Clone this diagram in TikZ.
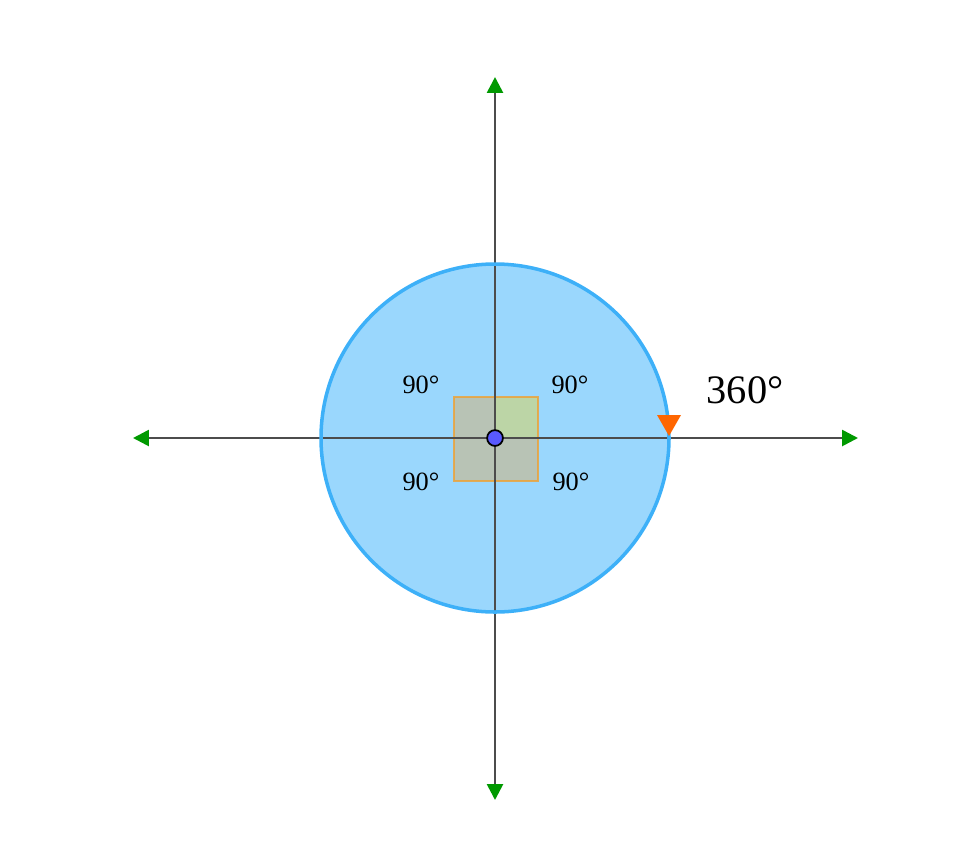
\documentclass[tikz,border=0pt]{standalone}
\usepackage{fontspec}
\setmainfont{Liberation Serif}
\usetikzlibrary{arrows.meta}
\definecolor{disc}{HTML}{9AD7FD}
\definecolor{discline}{HTML}{3DB0F8}
\definecolor{axisgreen}{HTML}{009900}
\definecolor{marker}{HTML}{FF6600}
\definecolor{sq}{HTML}{F0A030}
\tikzset{
  axis/.style={draw=black!70, line width=1.5pt, -{Triangle[length=9pt,width=9pt,color=axisgreen]}},
  quad/.style={draw=sq, line width=1.5pt, draw opacity=0.8, fill=sq, fill opacity=0.35},
  deg/.style={font=\fontsize{15}{15}\selectfont},
}
\begin{document}
\begin{tikzpicture}[x=0.02cm,y=-0.02cm]
\useasboundingbox (0,0) rectangle (976,866);

% disc
\fill[disc] (495,438) circle (174);

% quadrant squares
\path[quad] (454,397) rectangle (495,438);
\path[quad, fill=yellow!70!orange] (495,397) rectangle (538,438);
\path[quad] (454,438) rectangle (495,481);
\path[quad] (495,438) rectangle (538,481);

% axes
\coordinate (O) at (495,438);
\coordinate (E) at (858,438);
\coordinate (W) at (133,438);
\coordinate (N) at (495,77);
\coordinate (S) at (495,800);
\draw[axis] (O) -- (E);
\draw[axis] (O) -- (W);
\draw[axis] (O) -- (N);
\draw[axis] (O) -- (S);

\draw[discline, line width=2pt] (O) circle (174);

% centre and marker
\node[circle, draw=black, line width=1pt, fill=blue!65!white, inner sep=0pt, minimum size=9pt] (centre) at (O) {};
\fill[marker] (657,415) -- (681,415) -- (669,436) -- cycle;

% labels
\node[deg] (nw) at (421,385) {90°};
\node[deg] (ne) at (570,385) {90°};
\node[deg] (sw) at (421,482) {90°};
\node[deg] (se) at (571,482) {90°};
\node[font=\fontsize{23}{23}\selectfont] (full) at (745,390) {360°};

\end{tikzpicture}
\end{document}
